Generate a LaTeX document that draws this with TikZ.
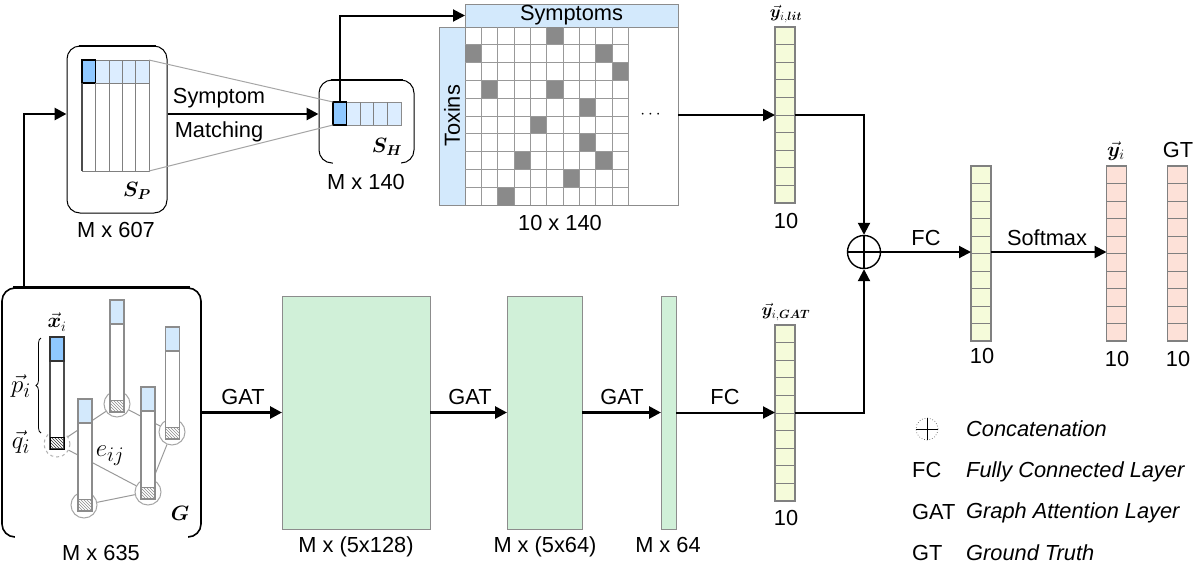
\documentclass[tikz,border=0pt]{standalone}
\usepackage{amsmath}
\usepackage{bm}
\usepackage{fontspec}
\setmainfont{Liberation Sans}
\usetikzlibrary{arrows.meta,calc,patterns,decorations.pathreplacing}

\definecolor{celldark}{HTML}{8FC8FF}
\definecolor{celllight}{HTML}{DCEDFF}
\definecolor{headblue}{HTML}{D3E9FC}
\definecolor{blockgreen}{HTML}{D0F0D8}
\definecolor{vecyellow}{HTML}{F5FBDA}
\definecolor{vecred}{HTML}{FDE1D8}
\definecolor{cellgrey}{HTML}{8A8A8A}

\begin{document}
\begin{tikzpicture}[
            x=1pt, y=-1pt,
            lbl/.style={
                inner sep=0pt,
                font=\fontsize{21.8}{24}\selectfont
            },
            ital/.style={
                lbl,
                anchor=base west,
                font=\fontsize{21.8}{24}\selectfont\itshape
            },
            sym/.style={
                inner sep=0pt,
                font=\fontsize{17.28}{20}\selectfont
            },
            bigsym/.style={
                inner sep=0pt,
                font=\fontsize{20.74}{24}\selectfont
            },
            hugesym/.style={
                inner sep=0pt,
                font=\fontsize{24.88}{28}\selectfont
            },
            panel/.style={
                rectangle,
                draw=black,
                line width=1pt,
                rounded corners=13pt,
                inner sep=0pt
            },
            plain/.style={
                rectangle,
                inner sep=0pt,
                outer sep=0pt
            },
            vec/.style={
                plain,
                draw=black!50,
                line width=1.8pt,
                minimum width=20pt
            },
            block/.style={
                plain,
                draw=black!45,
                line width=0.8pt,
                fill=blockgreen,
                minimum height=233pt
            },
            colbody/.style={
                plain,
                anchor=north,
                draw=black!45,
                line width=1.2pt,
                fill=white,
                minimum width=14pt,
                minimum height=112pt
            },
            colhead/.style={
                plain,
                anchor=north,
                draw=black!45,
                line width=1.2pt,
                fill=headblue,
                minimum width=14pt,
                minimum height=24pt
            },
            colhatch/.style={
                plain,
                anchor=south,
                draw=black!45,
                line width=1pt,
                pattern=north west lines,
                pattern color=black!45,
                minimum width=14pt,
                minimum height=12pt
            },
            gnode/.style={
                circle,
                draw=black!35,
                line width=1pt,
                fill=white,
                inner sep=0pt,
                minimum size=26pt
            },
            cat/.style={
                circle,
                draw=black,
                line width=1.4pt,
                inner sep=0pt,
                minimum size=33pt
            },
            arrow/.style={-{Triangle[length=12pt,width=12pt]}, line width=2pt},
            boldarrow/.style={-{Triangle[length=12pt,width=12pt]}, line width=2.8pt},
            zoomline/.style={draw=black!35, line width=1pt},
            cellline/.style={draw=black!50, line width=1pt},
            gridline/.style={draw=black!40, line width=1pt},
            edge/.style={draw=black!40, line width=1pt},
            toprim/.style={draw=black, line width=2pt}
        ]
        \useasboundingbox (0,0) rectangle (1194,563);

        % Panels - bottom edge of the open ones is painted over
        \node[panel, line width=1.6pt, minimum width=199pt, minimum height=249pt] (gbox) at (101.5,412.5) {};
        \node[panel, minimum width=100pt, minimum height=167pt] (spbox) at (117,129.5) {};
        \node[panel, minimum width=95pt, minimum height=83pt] (shbox) at (366.5,121.5) {};
        \draw[white, line width=3pt] ([xshift=14pt]gbox.south west) -- ([xshift=-14pt]gbox.south east);
        \draw[white, line width=3pt] ([xshift=14pt]shbox.south west) -- ([xshift=-14pt]shbox.south east);
        \draw[toprim] ([xshift=12pt]gbox.north west) -- ([xshift=-12pt]gbox.north east);
        \draw[toprim] ([xshift=12pt]spbox.north west) -- ([xshift=-12pt]spbox.north east);
        \draw[toprim] ([xshift=12pt]shbox.north west) -- ([xshift=-12pt]shbox.north east);
        \coordinate (gup) at (24,287);
        \coordinate (matchy) at (240,114);

        % Symptom table of the panel S_P
        \node[plain, fill=celllight, minimum width=67pt, minimum height=23pt] (sphead) at (115.5,71.5) {};
        \node[plain, fill=white, minimum width=67pt, minimum height=88pt] (spbody) at (115.5,127) {};
        \draw[cellline] (sphead.north west) rectangle (spbody.south east);
        \draw[cellline] (sphead.south west) -- (sphead.south east);
        \foreach \x in {109,122.4,135.7}
            \draw[cellline] (\x,60) -- (\x,171);
        \node[plain, draw=black, line width=1.2pt, fill=celldark, minimum width=13.6pt, minimum height=23pt] (spcell) at (88.8,71.5) {};
        \draw[draw=black!70, line width=1.2pt] (spcell.south west) -- (spbody.south west);
        \draw[cellline] (spcell.south east) -- (spcell.south east |- spbody.south);

        % Matched row of the panel S_H
        \node[plain, fill=celllight, draw=black!45, line width=1pt, minimum width=68pt, minimum height=23pt] (shrow) at (367,113.5) {};
        \foreach \x in {360,373.5,387}
            \draw[cellline] (\x,102) -- (\x,125);
        \node[plain, draw=black, line width=1.2pt, fill=celldark, minimum width=13.6pt, minimum height=23pt] (shcell) at (339.8,113.5) {};
        \draw[zoomline] (sphead.north east) -- (shrow.north west);
        \draw[zoomline] (spbody.south east) -- (shrow.south west);

        \node[lbl] (lmatch1) at (219,98) {Symptom};
        \node[lbl] (lmatch2) at (219,131.5) {Matching};
        \node[bigsym] (lsp) at (137,191) {$\bm{S}_{\bm{P}}$};
        \node[bigsym] (lsh) at (387,147) {$\bm{S}_{\bm{H}}$};
        \node[lbl] (dimsp) at (116,230) {M x 607};
        \node[lbl] (dimsh) at (366,182) {M x 140};

        % Toxin by symptom table
        \node[plain, draw=black!45, line width=1pt, fill=headblue, minimum width=213pt, minimum height=23pt, lbl] (symhead) at (571.5,15.5) {Symptoms};
        \node[plain, draw=black!45, line width=1pt, fill=headblue, minimum width=178pt, minimum height=26pt, lbl, rotate=90] (toxhead) at (452,116) {Toxins};
        \node[plain, draw=black!45, line width=1pt, minimum width=213pt, minimum height=178pt] (grid) at (571.5,116) {};
        \foreach \c/\r in {5/0,0/1,8/1,9/2,1/3,5/3,7/4,4/5,7/6,3/7,8/7,6/8,2/9}
            \fill[cellgrey] ({465+\c*16.35},{27+\r*17.8}) rectangle +(16.35,17.8);
        \foreach \k in {1,...,10}
            \draw[gridline] ({465+\k*16.35},27) -- ({465+\k*16.35},205);
        \foreach \k in {1,...,9}
            \draw[gridline] (465,{27+\k*17.8}) -- (628.5,{27+\k*17.8});
        \node[inner sep=0pt, font=\fontsize{17.28}{20}\selectfont] (gdots) at (652,115) {$\cdots$};
        \node[lbl] (dimgrid) at (560,223) {10 x 140};

        % Score vectors
        \node[vec, fill=vecyellow, minimum height=176pt] (ylit) at (785,115) {};
        \node[vec, fill=vecyellow, minimum height=176pt] (ygat) at (785,413) {};
        \node[vec, fill=vecyellow, minimum height=175pt] (yfc) at (981,253.5) {};
        \node[vec, fill=vecred, minimum height=175pt] (yout) at (1116.5,253.5) {};
        \node[vec, fill=vecred, minimum height=175pt] (ygt) at (1177.5,253.5) {};
        \foreach \v in {ylit,ygat,yfc,yout,ygt}
            \foreach \k in {1,...,9}
                \draw[cellline] ($(\v.north west)!\k/10!(\v.south west)$) -- ($(\v.north east)!\k/10!(\v.south east)$);
        \node[sym] (lylit) at (786,14) {$\vec{\bm{y}}_{i,\bm{lit}}$};
        \node[sym] (lygat) at (786,312) {$\vec{\bm{y}}_{i,\bm{GAT}}$};
        \node[bigsym] (lyout) at (1116,151) {$\vec{\bm{y}}_{i}$};
        \node[lbl] (lgt) at (1178,150) {GT};
        \node[lbl] (dimlit) at (786,221) {10};
        \node[lbl] (dimgat) at (786,518) {10};
        \node[lbl] (dimfc) at (982,356) {10};
        \node[lbl] (dimout) at (1117,359) {10};
        \node[lbl] (dimgt) at (1178,359) {10};

        % Graph attention blocks
        \node[block, minimum width=148pt] (bl1) at (356,412.5) {};
        \node[block, minimum width=75pt] (bl2) at (544.5,412.5) {};
        \node[block, minimum width=15pt] (bl3) at (668.5,412.5) {};
        \node[lbl] (dimb1) at (356,546.5) {M x (5x128)};
        \node[lbl] (dimb2) at (545,546.5) {M x (5x64)};
        \node[lbl] (dimb3) at (668,545) {M x 64};
        \node[lbl] (dimg) at (101,553) {M x 635};

        % Graph inside the panel G
        \node[gnode, draw=black!30, dashed] (gn1) at (57,444) {};
        \node[gnode] (gn2) at (117,404) {};
        \node[gnode] (gn3) at (172,432) {};
        \node[gnode] (gn4) at (84,505) {};
        \node[gnode] (gn5) at (148,492) {};
        \draw[edge] (gn1) -- (gn2);
        \draw[edge] (gn1) -- (gn5);
        \draw[edge] (gn2) -- (gn3);
        \draw[edge] (gn3) -- (gn5);
        \draw[edge] (gn4) -- (gn5);
        \foreach \n/\x/\yt in {2/117/300,3/172.5/327,4/85/399,5/148/387} {
            \node[colbody] (col\n) at (\x,\yt) {};
            \node[colhead] (colh\n) at (col\n.north) {};
            \node[colhatch] (colq\n) at (col\n.south) {};
        }
        \node[colbody, draw=black!70] (col1) at (57,337) {};
        \node[colhead, draw=black!80, fill=celldark] (colh1) at (col1.north) {};
        \node[colhatch, draw=black, pattern color=black!80] (colq1) at (col1.south) {};
        \draw[decorate, decoration={brace, amplitude=5pt}, line width=0.8pt] (41,433) -- (41,338);
        \node[bigsym] (lxi) at (57,322) {$\vec{\bm{x}}_{i}$};
        \node[hugesym] (lpi) at (21,386) {$\vec{p}_{i}$};
        \node[hugesym] (lqi) at (21,442) {$\vec{q}_{i}$};
        \node[hugesym] (leij) at (110,456) {$e_{ij}$};
        \node[bigsym] (lg) at (180,513) {$\bm{G}$};

        % Concatenation
        \node[cat] (catnode) at (864,252) {};
        \draw[line width=1.4pt] (catnode.north) -- (catnode.south);
        \draw[line width=1.4pt] (catnode.west) -- (catnode.east);

        % Connecting arrows
        \draw[boldarrow] (gup) |- (spbox.west |- matchy);
        \draw[boldarrow] (spbox.east |- matchy) -- (shbox.west |- matchy);
        \draw[arrow] (shcell.north) |- (symhead.west);
        \draw[arrow] (grid.east |- ylit.west) -- (ylit.west);
        \draw[boldarrow] (gbox.east) -- (bl1.west);
        \draw[boldarrow] (bl1.east) -- (bl2.west);
        \draw[boldarrow] (bl2.east) -- (bl3.west);
        \draw[arrow] (bl3.east) -- (ygat.west |- bl3.east);
        \draw[arrow] (ylit.east) -| (catnode.north);
        \draw[arrow] (ygat.east) -| (catnode.south);
        \draw[arrow] (catnode.east) -- (yfc.west |- catnode.east);
        \draw[arrow] (yfc.east |- catnode.east) -- (yout.west |- catnode.east);

        % Arrow labels
        \node[lbl] (lgat1) at (243,397) {GAT};
        \node[lbl] (lgat2) at (470,397) {GAT};
        \node[lbl] (lgat3) at (622,397) {GAT};
        \node[lbl] (lfc1) at (725,397) {FC};
        \node[lbl] (lfc2) at (926,238) {FC};
        \node[lbl] (lsoft) at (1047,238) {Softmax};

        % Legend
        \node[circle, draw=black!60, dotted, line width=0.7pt, inner sep=0pt, minimum size=22pt] (legcat) at (927,429) {};
        \draw[line width=0.9pt] (legcat.north) -- (legcat.south);
        \draw[line width=0.9pt] (legcat.west) -- (legcat.east);
        \node[ital] (legt1) at (966,436) {Concatenation};
        \node[lbl, anchor=base west] (legk2) at (912,477) {FC};
        \node[ital] (legt2) at (966,477) {Fully Connected Layer};
        \node[lbl, anchor=base west] (legk3) at (912,519) {GAT};
        \node[ital] (legt3) at (966,518) {Graph Attention Layer};
        \node[lbl, anchor=base west] (legk4) at (912,560.5) {GT};
        \node[ital] (legt4) at (966,560.5) {Ground Truth};

        \end{tikzpicture}
\end{document}
